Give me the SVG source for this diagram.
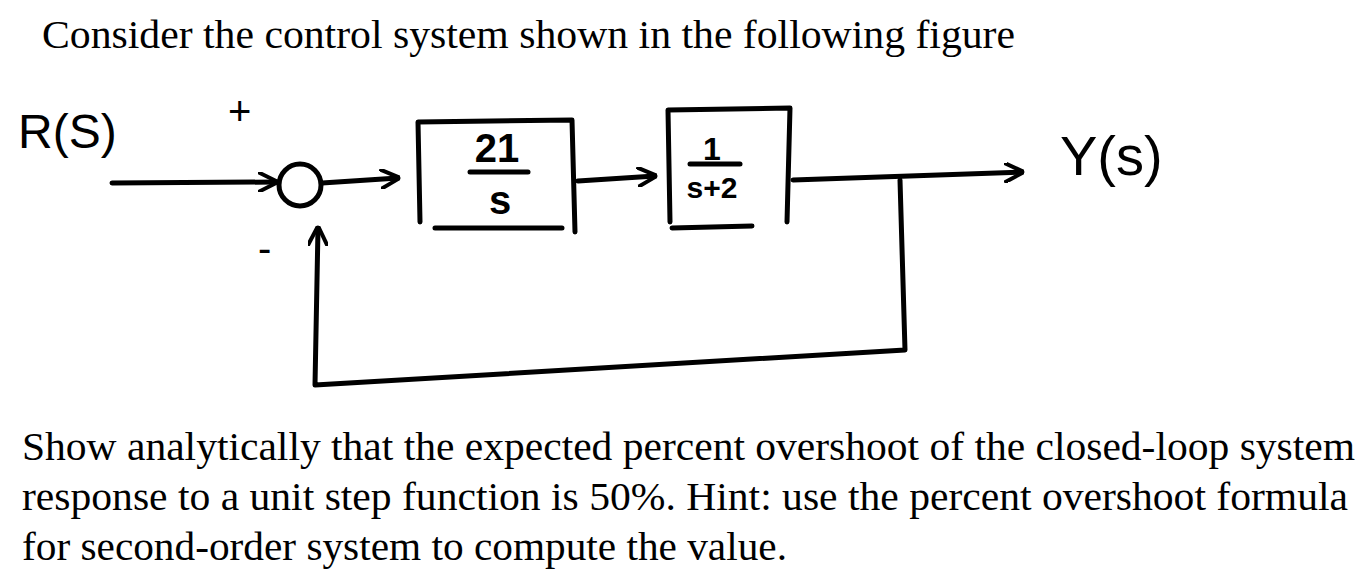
<svg xmlns="http://www.w3.org/2000/svg" width="1367" height="581" viewBox="0 0 1367 581">
<style>
.t{font-family:"Liberation Serif",serif;font-size:40px;fill:#000}
.h{font-family:"Liberation Sans",sans-serif;fill:#000}
.ln{fill:none;stroke:#000;stroke-width:5;stroke-linecap:round;stroke-linejoin:round}
</style>
<defs>
<marker id="a" viewBox="0 0 10 10" refX="9" refY="5" markerWidth="4" markerHeight="4" orient="auto" markerUnits="strokeWidth">
<path d="M0,0 L10,5 L0,10" fill="none" stroke="#000" stroke-width="2"/>
</marker>
</defs>
<rect width="1367" height="581" fill="#fff"/>
<text class="t" x="42" y="48" textLength="973" lengthAdjust="spacingAndGlyphs">Consider the control system shown in the following figure</text>
<text class="t" x="22" y="460" textLength="1333" lengthAdjust="spacingAndGlyphs">Show analytically that the expected percent overshoot of the closed-loop system</text>
<text class="t" x="22" y="510" textLength="1326" lengthAdjust="spacingAndGlyphs">response to a unit step function is 50%. Hint: use the percent overshoot formula</text>
<text class="t" x="22" y="560" textLength="765" lengthAdjust="spacingAndGlyphs">for second-order system to compute the value.</text>
<text class="h" x="18" y="148" font-size="48">R(S)</text>
<text class="h" x="228" y="125" font-size="40">+</text>
<text class="h" x="1060" y="175" font-size="56">Y(s)</text>
<text class="h" x="258" y="262" font-size="40">-</text>
<g id="sum"><circle class="ln" cx="300" cy="185" r="21"/></g>
<g id="b1">
<path class="ln" d="M418,122 L572,120 L575,232 M418,122 L420,222 M435,228 L562,228"/>
<text class="h" x="497" y="162" font-size="40" font-weight="bold" text-anchor="middle">21</text>
<line class="ln" x1="470" y1="172" x2="528" y2="172"/>
<text class="h" x="500" y="214" font-size="40" font-weight="bold" text-anchor="middle">s</text>
</g>
<g id="b2">
<path class="ln" d="M668,110 L790,108 L787,222 M668,110 L670,222 M672,228 L752,226"/>
<text class="h" x="712" y="160" font-size="32" font-weight="bold" text-anchor="middle">1</text>
<line class="ln" x1="690" y1="164" x2="740" y2="164"/>
<text class="h" x="712" y="198" font-size="30" font-weight="bold" text-anchor="middle">s+2</text>
</g>
<g id="connectors">
<path class="ln" d="M112,183 L276,182" marker-end="url(#a)"/>
<path class="ln" d="M322,183 L398,178" marker-end="url(#a)"/>
<path class="ln" d="M578,181 L655,176" marker-end="url(#a)"/>
<path class="ln" d="M793,180 L1022,172" marker-end="url(#a)"/>
<path class="ln" d="M900,180 L905,350 L315,385 L318,228" marker-end="url(#a)"/>
</g>
</svg>
